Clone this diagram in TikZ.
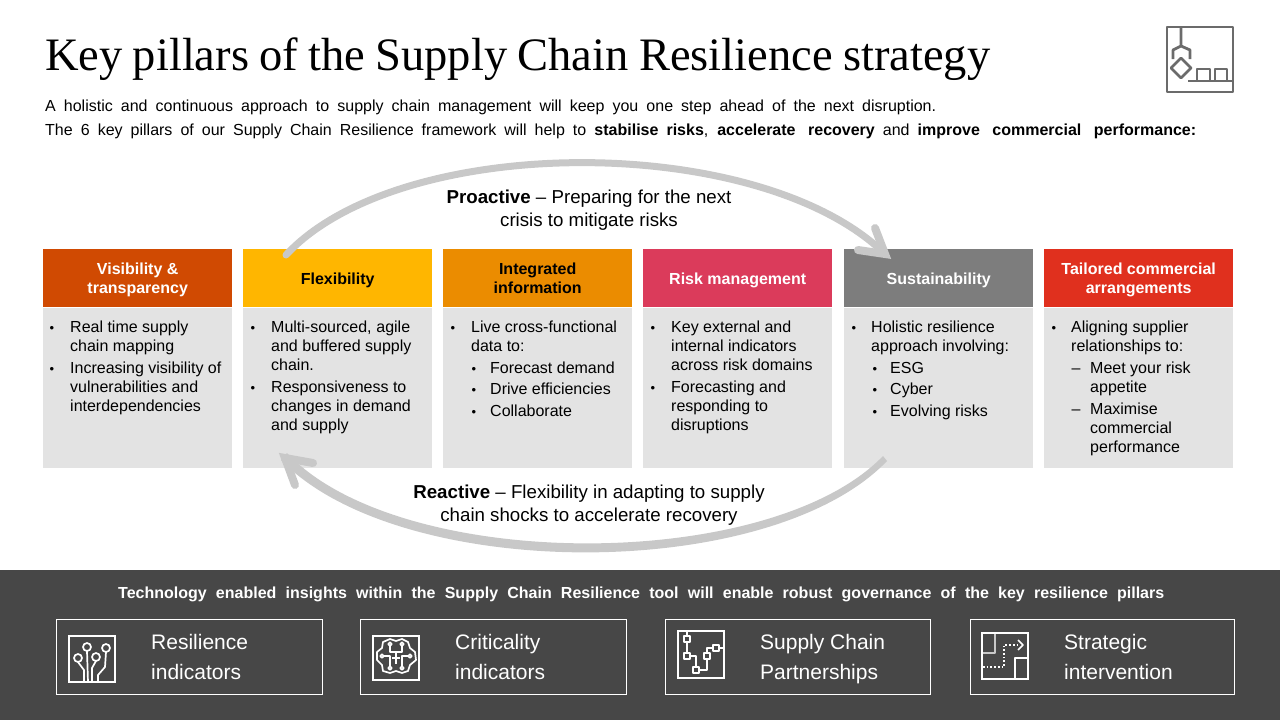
\documentclass[tikz,border=0pt]{standalone}
\usepackage{fontspec}
\setmainfont{Liberation Sans}
\newfontfamily\titlefont{Liberation Serif}

\definecolor{bandgrey}{HTML}{474747}
\definecolor{bodygrey}{HTML}{E3E3E3}
\definecolor{loopgrey}{HTML}{C8C8C8}
\definecolor{icongrey}{HTML}{6B6B6B}
\definecolor{pillarA}{HTML}{D04A02}
\definecolor{pillarB}{HTML}{FFB600}
\definecolor{pillarC}{HTML}{EB8C00}
\definecolor{pillarD}{HTML}{DB3B5B}
\definecolor{pillarE}{HTML}{7D7D7D}
\definecolor{pillarF}{HTML}{E0301E}

\tikzset{
  txt/.style={inner sep=0pt, font=\fontsize{16}{19}\selectfont, align=left, anchor=base west},
  dotmark/.style={inner sep=0pt, font=\fontsize{13}{19}\selectfont, anchor=base},
  dashmark/.style={inner sep=0pt, font=\fontsize{16}{19}\selectfont, anchor=base},
  looptxt/.style={inner sep=0pt, font=\fontsize{18.7}{23}\selectfont, align=center, anchor=base},
  loopline/.style={draw=loopgrey, line width=7pt, line cap=round},
  loophead/.style={draw=loopgrey, line width=8pt, line cap=round, line join=miter},
  iconbox/.style={draw=white, line width=2.4pt},
  iconline/.style={draw=white, line width=1.7pt, line join=round},
  logoline/.style={draw=icongrey, line width=2.8pt, line join=round},
  toolbox/.style={draw=white, line width=1.2pt, minimum height=75pt, anchor=north west, inner sep=0pt},
  tooltxt/.style={inner sep=0pt, text=white, font=\fontsize{21}{30}\selectfont, align=left, anchor=base west},
}

\newcommand{\lineto}[2]{\hbox to #1pt{#2}}
\newcommand{\bgap}{\hspace{4.5pt}}

\begin{document}
\begin{tikzpicture}[x=1pt, y=-1pt]
    \useasboundingbox (0, 0) rectangle (1280, 720);
    \fill [bandgrey] (0, 570) rectangle (1280, 720);

    % heading
    \node (title) [inner sep=0pt, anchor=base west, font=\titlefont\fontsize{46.5}{50}\selectfont]
      at (45, 70) {\lineto{945}{Key pillars of the Supply Chain Resilience strategy}};
    \node (introa) [txt] at (45, 111) {\lineto{891}{A holistic  and  continuous  approach  to  supply  chain  management  will  keep  you  one  step  ahead  of  the  next  disruption.}};
    \node (introb) [txt] at (45, 135) {\lineto{1151}{The  6  key  pillars  of  our  Supply  Chain  Resilience  framework  will  help  to  \textbf{stabilise  risks},  \textbf{accelerate\bgap{}  recovery}  and  \textbf{improve\bgap{}  commercial\bgap{}  performance:}}};

    % logo
    \draw [logoline] (1167, 27) rectangle (1233, 92);
    \draw [logoline] (1181, 27) -- (1181, 46) (1173, 59) -- (1173, 50) -- (1181, 46) -- (1190, 50) -- (1190, 59);
    \draw [logoline] (1181, 58) -- (1191, 68) -- (1181, 78) -- (1171, 68) -- cycle;
    \draw [logoline] (1197, 69) rectangle (1210, 81) (1215, 69) rectangle (1227, 81) (1188, 81) -- (1233, 81);

    % pillars
    \foreach \n/\cx/\col/\tcol/\lbl in {a/43/pillarA/white/{Visibility \&\\transparency}, b/243/pillarB/black/{Flexibility},
        c/443/pillarC/black/{Integrated\\information}, d/643/pillarD/white/{Risk management},
        e/844/pillarE/white/{Sustainability}, f/1044/pillarF/white/{Tailored commercial\\arrangements}} {
      \node (head\n) [fill=\col, minimum width=189pt, minimum height=58pt, inner sep=0pt, anchor=north west] at (\cx, 249) {};
      \node (label\n) [yshift=-2pt, inner sep=0pt, align=center, font=\fontsize{16}{19}\selectfont\bfseries, text=\tcol] at (head\n) {\lbl\vphantom{p}};
      \node (body\n) [fill=bodygrey, minimum width=189pt, minimum height=160pt, inner sep=0pt, anchor=north west] at (\cx, 308) {};
    }

    % first level marks
    \foreach \x/\y in {52/332, 52/373, 253/332, 253/392, 453/332, 653/332, 653/392, 854/332, 1054/332} {
      \node [dotmark] at (\x, \y) {\textbullet};
    }
    % second level marks
    \foreach \y in {373, 394, 416} {
      \node [dotmark] at (474, \y) {\textbullet};
      \node [dotmark] at (875, \y) {\textbullet};
    }
    \node [dashmark] at (1076, 373) {--};
    \node [dashmark] at (1076, 414) {--};

    \node (ta) [txt] at (70, 351) {Real time supply\\chain mapping};
    \node (tb) [txt] at (70, 411) {Increasing visibility of\\vulnerabilities and\\interdependencies};
    \node (tc) [txt] at (271, 370) {\lineto{139}{Multi-sourced,  agile}\\and buffered supply\\chain.};
    \node (td) [txt] at (271, 430) {Responsiveness to\\changes in demand\\and supply};
    \node (te) [txt] at (471, 351) {Live cross-functional\\data to:};
    \node (tf) [txt] at (490, 373) {Forecast demand};
    \node (tg) [txt] at (490, 394) {Drive efficiencies};
    \node (th) [txt] at (490, 416) {Collaborate};
    \node (ti) [txt] at (671, 370) {Key external and\\internal indicators\\across risk domains};
    \node (tj) [txt] at (671, 430) {Forecasting and\\responding to\\disruptions};
    \node (tk) [txt] at (871, 351) {Holistic resilience\\approach involving:};
    \node (tl) [txt] at (890, 373) {ESG};
    \node (tm) [txt] at (890, 394) {Cyber};
    \node (tn) [txt] at (890, 416) {Evolving risks};
    \node (to) [txt] at (1071, 351) {Aligning supplier\\relationships to:};
    \node (tp) [txt] at (1090, 392) {Meet your risk\\appetite};
    \node (tq) [txt] at (1090, 452) {Maximise\\commercial\\performance};

    % loop arrows
    \coordinate (prostart) at (286, 255);
    \coordinate (protip) at (885, 254);
    \coordinate (retip) at (285, 458);
    \draw [loopline] (prostart) .. controls (400, 132) and (760, 132) .. (protip);
    \draw [loophead] (875, 228) -- (protip) -- (858, 250);
    \fill [loopgrey] (887, 461) .. controls (770, 583) and (400, 583) .. (281, 460)
      -- (287, 453) .. controls (400, 573) and (770, 573) .. (883, 456) -- cycle;
    \draw [loophead] (313, 463) -- (retip) -- (295, 485);

    \node (protxt) [looptxt] at (589, 226) {\textbf{Proactive} -- Preparing for the next\\crisis to mitigate risks};
    \node (retxt) [looptxt] at (589, 521) {\textbf{Reactive} -- Flexibility in adapting to supply\\chain shocks to accelerate recovery};

    % tool band
    \node (bandtxt) [txt, text=white, font=\fontsize{16}{19}\selectfont\bfseries] at (118, 598) {\lineto{1046}{Technology  enabled  insights  within  the  Supply  Chain  Resilience  tool  will  enable  robust  governance  of  the  key  resilience  pillars}};

    \foreach \n/\cx/\bw/\tx/\lbl in {a/56/266/151/{Resilience\\indicators}, b/360/266/455/{Criticality\\indicators},
        c/665/265/760/{Supply Chain\\Partnerships}, d/970/264/1064/{Strategic\\intervention}} {
      \node (tool\n) [toolbox, minimum width=\bw pt] at (\cx, 619) {};
      \node (tooltxt\n) [tooltxt] at (\tx, 679) {\lbl};
    }

    % icon: circuit
    \draw [iconbox] (69, 636) rectangle (115, 682);
    \draw [iconline] (78, 658) circle (4) (87, 647) circle (4) (96, 657) circle (4) (106, 648) circle (4);
    \draw [iconline] (78, 662) -- (84, 670) -- (84, 682) (87, 651) -- (88, 682) (96, 661) -- (92, 668) -- (92, 682)
      (106, 652) -- (105, 667) -- (98, 675) -- (98, 682);

    % icon: brain
    \draw [iconbox] (373, 636) rectangle (419, 680);
    \draw [iconline] (390, 639) -- (396, 641) -- (402, 639) -- (408, 642) -- (410, 648) -- (415, 652) -- (416, 660) -- (410, 665) -- (408, 671) -- (402, 673) -- (396, 671) -- (390, 673) -- (383, 671) -- (382, 665) -- (377, 660) -- (377, 652) -- (382, 648) -- (383, 642) -- cycle;
    \draw [iconline] (390, 644) circle (1.8) (402, 644) circle (1.8) (382, 656) circle (1.8) (410, 656) circle (1.8) (390, 668) circle (1.8) (402, 668) circle (1.8);
    \draw [iconline] (390, 646) -- (390, 652) -- (396, 652) -- (396, 664) (402, 646) -- (402, 652) -- (396, 652)
      (384, 656) -- (390, 656) -- (390, 666) (408, 656) -- (402, 656) -- (402, 666) (392, 658) -- (400, 658);

    % icon: partners
    \draw [iconbox] (678, 631) rectangle (724, 678);
    \draw [iconline] (684, 636) rectangle (690, 642) (684, 653) rectangle (690, 659) (693, 667) rectangle (699, 673)
      (704, 653) rectangle (710, 659) (713, 645) rectangle (719, 651);
    \draw [iconline] (687, 631) -- (687, 636) (687, 642) -- (687, 653) (690, 656) -- (696, 656) -- (696, 667)
      (699, 670) -- (707, 670) -- (707, 659) (707, 653) -- (707, 648) -- (713, 648) (719, 648) -- (724, 648);

    % icon: route
    \draw [iconbox] (982, 633) rectangle (1028, 679);
    \draw [iconline, loopgrey] (983, 653) -- (995, 653) -- (995, 634);
    \draw [iconline] (1015, 679) -- (1015, 658) -- (1028, 658);
    \draw [iconline, dotted, line width=1.8pt] (983, 667) -- (1004, 667) -- (1004, 645) -- (1020, 645);
    \draw [iconline] (1018, 640) -- (1023, 645) -- (1018, 650);
\end{tikzpicture}
\end{document}
